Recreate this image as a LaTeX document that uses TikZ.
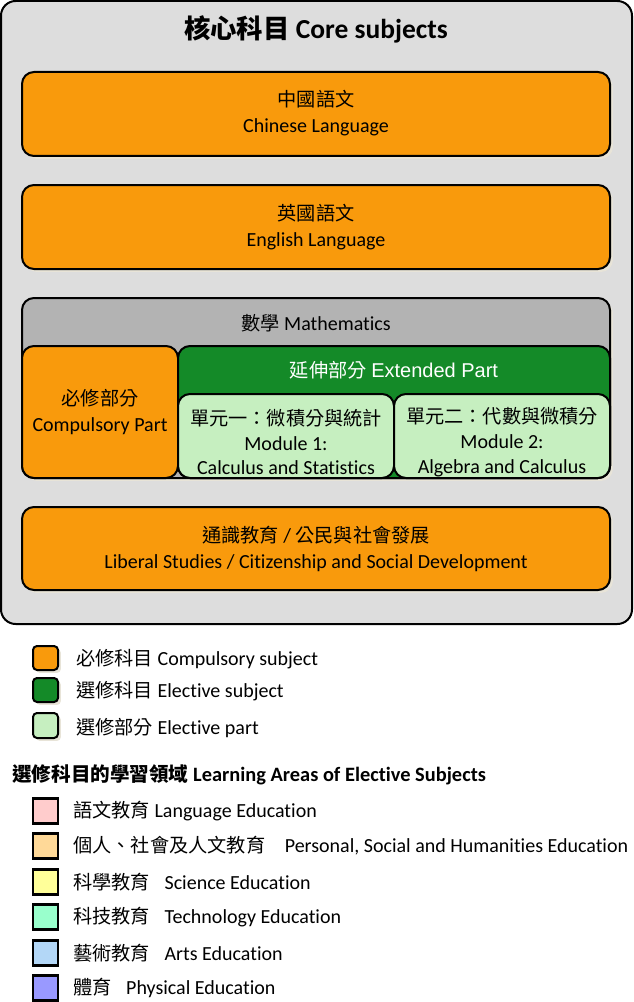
\documentclass[tikz,border=0pt]{standalone}
\usepackage{fontspec}
\setmainfont{Carlito}[Ligatures=NoCommon]
\newfontfamily\zh{Noto Sans CJK TC}[Scale=0.96]
\newfontfamily\arialfont{Liberation Sans}
\definecolor{coreg}{HTML}{DDDDDD}
\definecolor{compc}{HTML}{F99A0C}
\definecolor{mathg}{HTML}{B3B3B3}
\definecolor{electc}{HTML}{148A28}
\definecolor{partc}{HTML}{C6EFC0}
\definecolor{shadec}{HTML}{E8E4D8}
\definecolor{langc}{HTML}{FFCCCC}
\definecolor{humc}{HTML}{FFD998}
\definecolor{scic}{HTML}{FFFF99}
\definecolor{techc}{HTML}{99FFCC}
\definecolor{artsc}{HTML}{B3D7F7}
\definecolor{pec}{HTML}{9999FF}

\begin{document}
\begin{tikzpicture}[x=0.75pt,y=-0.75pt,
    box/.style={draw=black,line width=1.5pt,rounded corners=9pt},
    shadowed/.style={preaction={fill=shadec,transform canvas={shift={(2.2pt,-2.2pt)}}}},
    swatch/.style={draw=black,line width=1.5pt,rounded corners=3pt},
    areabox/.style={draw=black,line width=1.6pt},
    lbl/.style={font=\fontsize{15}{19.5}\selectfont,align=center},
    key/.style={font=\fontsize{15}{17}\selectfont,anchor=west}]
    \tikzstyle{every node}+=[inner sep=0pt]
    \useasboundingbox (0,0) rectangle (633,1002);
    % core subjects frame
    \draw [draw=black,line width=1.5pt,rounded corners=11pt,fill=coreg] (1,1) rectangle (632,624);
    \draw (316,29) node (core) [font=\fontsize{20.6}{24}\selectfont\bfseries] {{\zh 核心科目} Core subjects};
    \draw [box,shadowed,fill=compc] (22,72) rectangle (610,156);
    \draw (316,113) node (chinese) [lbl] {{\zh 中國語文}\\Chinese Language};
    \draw [box,shadowed,fill=compc] (22,185) rectangle (610,269);
    \draw (316,227) node (english) [lbl] {{\zh 英國語文}\\English Language};
    % mathematics
    \draw [box,shadowed,fill=mathg] (22,298) rectangle (610,478);
    \draw (316,323) node (maths) [lbl] {{\zh 數學} Mathematics};
    \draw [box,fill=compc] (22,346) rectangle (178,478);
    \draw (100,412) node (compul) [lbl] {{\zh 必修部分}\\Compulsory Part};
    \draw [box,fill=electc] (178,346) rectangle (610,478);
    \draw (394,370) node (extend) [lbl,text=white] {{\zh 延伸部分} \arialfont Extended Part};
    \draw [box,fill=partc] (178,394) rectangle (394,478);
    \draw (286,442) node (modone) [lbl,font=\fontsize{15}{18.5}\selectfont] {{\zh 單元一：微積分與統計}\\Module 1:\\Calculus and Statistics};
    \draw [box,fill=partc] (394,394) rectangle (610,478);
    \draw (502,442) node (modtwo) [lbl,font=\fontsize{15}{18.5}\selectfont] {{\zh 單元二：代數與微積分}\\Module 2:\\Algebra and Calculus};
    \draw [box,shadowed,fill=compc] (22,507) rectangle (610,590);
    \draw (316,549) node (liberal) [lbl] {{\zh 通識教育} / {\zh 公民與社會發展}\\Liberal Studies / Citizenship and Social Development};
    % legend
    \draw [swatch,shadowed,fill=compc] (33,646) rectangle (58,670);
    \draw (76,659) node (kcomp) [key] {{\zh 必修科目} Compulsory subject};
    \draw [swatch,shadowed,fill=electc] (33,678) rectangle (58,702);
    \draw (76,691) node (kelect) [key] {{\zh 選修科目} Elective subject};
    \draw [swatch,shadowed,fill=partc] (33,713) rectangle (58,738);
    \draw (76,728) node (kpart) [key] {{\zh 選修部分} Elective part};
    % learning areas
    \draw (12,775) node (areas) [key,font=\fontsize{15.3}{17}\selectfont\bfseries] {{\zh 選修科目的學習領域} Learning Areas of Elective Subjects};
    \draw [areabox,fill=langc] (33,798.5) rectangle (58,823.5);
    \draw (73,811) node (alang) [key] {{\zh 語文教育} Language Education};
    \draw [areabox,fill=humc] (33,833.5) rectangle (58,858.5);
    \draw (73,846) node (ahum) [key] {{\zh 個人、社會及人文教育}\hspace{0.75em} Personal, Social and Humanities Education};
    \draw [areabox,fill=scic] (33,869.5) rectangle (58,894.5);
    \draw (73,882) node (asci) [key] {{\zh 科學教育}\hspace{0.5em} Science Education};
    \draw [areabox,fill=techc] (33,904.5) rectangle (58,929.5);
    \draw (73,917) node (atech) [key] {{\zh 科技教育}\hspace{0.5em} Technology Education};
    \draw [areabox,fill=artsc] (33,940.5) rectangle (58,965.5);
    \draw (73,953) node (aarts) [key] {{\zh 藝術教育}\hspace{0.5em} Arts Education};
    \draw [areabox,fill=pec] (33,975.5) rectangle (58,1000.5);
    \draw (73,988) node (ape) [key] {{\zh 體育}\hspace{0.5em} Physical Education};
\end{tikzpicture}
\end{document}
